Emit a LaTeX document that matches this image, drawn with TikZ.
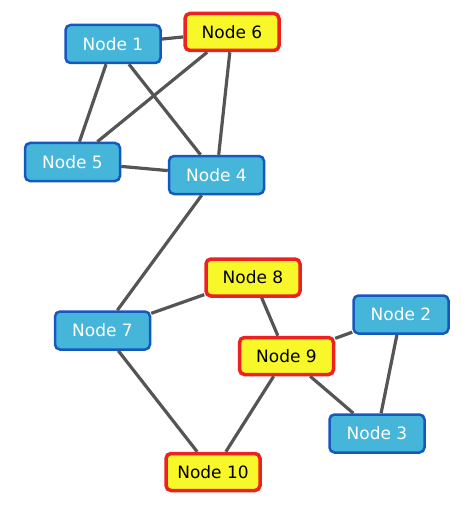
\documentclass[tikz,border=0pt]{standalone}
\usepackage{fontspec}
\setmainfont{DejaVu Sans}
\definecolor{bfill}{HTML}{45B6D9}
\definecolor{bdraw}{HTML}{1558BF}
\definecolor{yfill}{HTML}{F7F72A}
\definecolor{rdraw}{HTML}{EE2020}
\definecolor{edgec}{HTML}{555555}
\begin{document}
\begin{tikzpicture}[x=1pt,y=-1pt,
  bnode/.style={draw=bdraw, fill=bfill, line width=2.5pt, rounded corners=5pt,
    minimum width=95pt, minimum height=38pt, text=white, inner sep=0pt,
    font=\fontsize{17}{20}\selectfont},
  ynode/.style={draw=rdraw, fill=yfill, line width=3.5pt, rounded corners=5pt,
    minimum width=94pt, minimum height=37pt, text=black, inner sep=0pt,
    font=\fontsize{17}{20}\selectfont},
  edge/.style={draw=edgec, line width=3.2pt}]
\useasboundingbox (0,0) rectangle (474,505);
\node[bnode] (n1) at (113,44) {Node 1};
\node[ynode] (n6) at (232,32) {Node 6};
\node[bnode] (n5) at (72.5,162) {Node 5};
\node[bnode] (n4) at (216.5,175) {Node 4};
\node[ynode] (n8) at (253,277.5) {Node 8};
\node[bnode] (n7) at (102.5,330.5) {Node 7};
\node[bnode] (n2) at (401,314.5) {Node 2};
\node[ynode] (n9) at (286.5,356) {Node 9};
\node[bnode] (n3) at (377,433.5) {Node 3};
\node[ynode] (n10) at (213,472) {Node 10};
\draw[edge] (n1) -- (n6);
\draw[edge] (n1) -- (n5);
\draw[edge] (n1) -- (n4);
\draw[edge] (n6) -- (n5);
\draw[edge] (n6) -- (n4);
\draw[edge] (n5) -- (n4);
\draw[edge] (n4) -- (n7);
\draw[edge] (n7) -- (n8);
\draw[edge] (n7) -- (n10);
\draw[edge] (n8) -- (n9);
\draw[edge] (n9) -- (n2);
\draw[edge] (n9) -- (n3);
\draw[edge] (n9) -- (n10);
\draw[edge] (n2) -- (n3);
\end{tikzpicture}
\end{document}
